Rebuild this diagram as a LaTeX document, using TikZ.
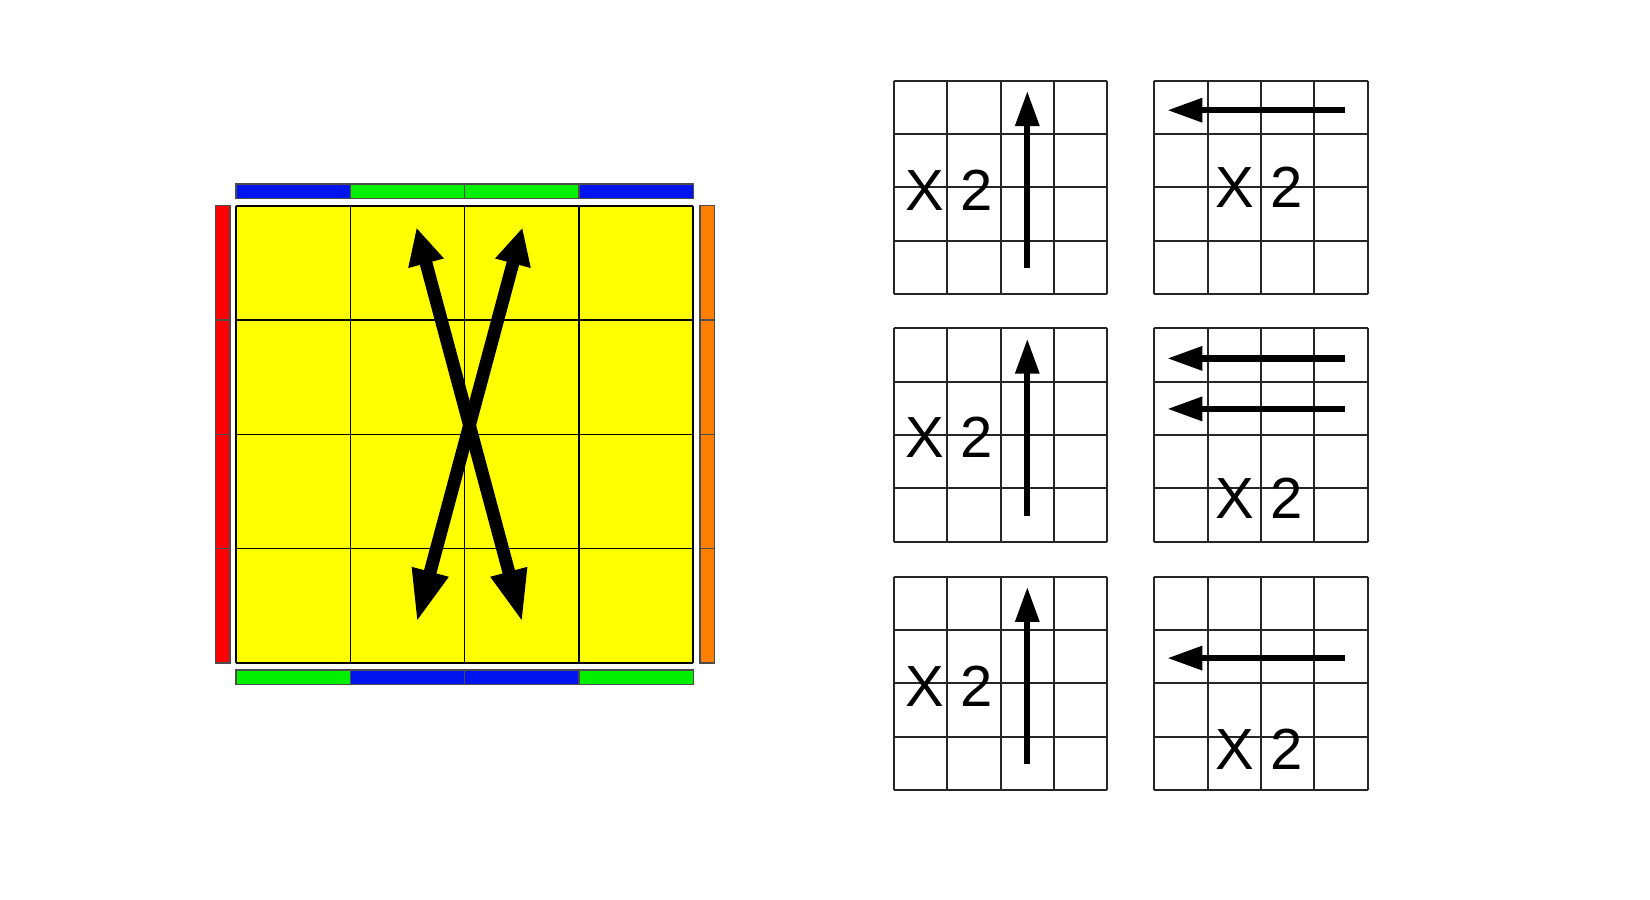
\documentclass[tikz,border=0pt]{standalone}
\usepackage{fontspec}
\setmainfont{Liberation Sans}
\usetikzlibrary{arrows.meta}
\definecolor{cubeyellow}{RGB}{255,255,0}
\definecolor{cubeblue}{RGB}{0,20,240}
\definecolor{cubegreen}{RGB}{0,240,0}
\definecolor{cubered}{RGB}{255,0,0}
\definecolor{cubeorange}{RGB}{255,128,0}
\tikzset{
  biggrid/.style={line width=0.8pt, draw=black},
  stripbox/.style={line width=0.6pt, draw=black!70},
  sgrid/.style={line width=1pt, draw=black!85},
  bigarrow/.style={line width=6.4pt, {Triangle[length=18.5pt,width=17pt]}-{Triangle[length=26.5pt,width=17pt]}},
  smallarrow/.style={line width=3.1pt, -{Triangle[length=17.5pt,width=11.5pt]}},
  lbl/.style={inner sep=0pt, anchor=base, font=\fontsize{29}{29}\selectfont}
}
\begin{document}
\begin{tikzpicture}[x=0.5pt,y=-0.5pt]
\useasboundingbox[fill=white] (0,0) rectangle (1650,900);
% big yellow face
\fill[cubeyellow] (236,205.7) rectangle (693.2,662.9);
\foreach \k in {0,...,4} {
  \draw[biggrid] ({236+\k*114.3},205.7) -- ({236+\k*114.3},662.9);
  \draw[biggrid] (236,{205.7+\k*114.3}) -- (693.2,{205.7+\k*114.3});
}
% top strip
\foreach \c [count=\i from 0] in {cubeblue,cubegreen,cubegreen,cubeblue}
  \filldraw[stripbox, fill=\c] ({236+\i*114.3},184) rectangle ({236+(\i+1)*114.3},198.7);
% bottom strip
\foreach \c [count=\i from 0] in {cubegreen,cubeblue,cubeblue,cubegreen}
  \filldraw[stripbox, fill=\c] ({236+\i*114.3},670) rectangle ({236+(\i+1)*114.3},684.7);
% left strip
\foreach \i in {0,...,3}
  \filldraw[stripbox, fill=cubered] (215.3,{205.7+\i*114.3}) rectangle (230,{205.7+(\i+1)*114.3});
% right strip
\foreach \i in {0,...,3}
  \filldraw[stripbox, fill=cubeorange] (700,{205.7+\i*114.3}) rectangle (714.3,{205.7+(\i+1)*114.3});
% crossing arrows
\coordinate (aTop) at (416.5,227.5);
\coordinate (aBot) at (522.5,623);
\coordinate (bTop) at (522.5,227.5);
\coordinate (bBot) at (416.5,623);
\draw[bigarrow] (aTop) -- (aBot);
\draw[bigarrow] (bTop) -- (bBot);
% small grids
\foreach \gx in {894,1154.3} {
  \foreach \gy in {80.7,328.4,576.6} {
    \foreach \k in {0,...,4} {
      \draw[sgrid] ({\gx+\k*53.3},\gy) -- ({\gx+\k*53.3},{\gy+213.2});
      \draw[sgrid] (\gx,{\gy+\k*53.3}) -- ({\gx+213.2},{\gy+\k*53.3});
    }
  }
}
% left column: vertical arrows and labels
\foreach \gy [count=\r] in {80.7,328.4,576.6} {
  \coordinate (vS\r) at (1027.3,{\gy+187.6});
  \coordinate (vE\r) at (1027.3,{\gy+10.3});
  \draw[smallarrow] (vS\r) -- (vE\r);
  \node[lbl] (tL\r) at (949.5,{\gy+129.5}) {X 2};
}
% right column: horizontal arrows
\foreach \gy/\ay [count=\r] in {80.7/29.5,328.4/30,328.4/80.5,576.6/81.5} {
  \coordinate (hS\r) at (1345,{\gy+\ay});
  \coordinate (hE\r) at (1167.3,{\gy+\ay});
  \draw[smallarrow] (hS\r) -- (hE\r);
}
% right column labels
\node[lbl] (tR1) at (1259,207) {X 2};
\node[lbl] (tR2) at (1259,518.4) {X 2};
\node[lbl] (tR3) at (1259,769.9) {X 2};
\end{tikzpicture}
\end{document}
